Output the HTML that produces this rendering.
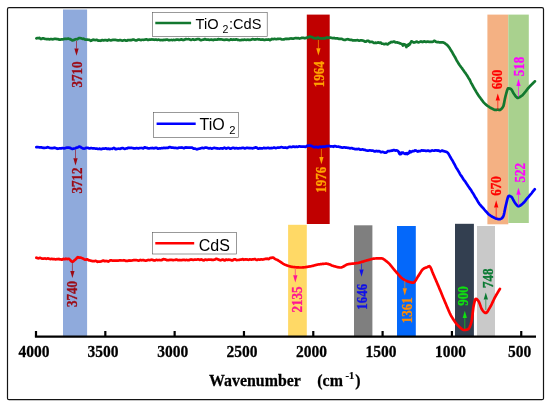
<!DOCTYPE html>
<html><head><meta charset="utf-8"><title>FTIR spectra</title>
<style>html,body{margin:0;padding:0;background:#fff}svg{display:block}.ser{font-family:"Liberation Serif",serif;font-weight:bold}.san{font-family:"Liberation Sans",sans-serif}</style></head><body>
<svg width="550" height="407" viewBox="0 0 550 407">
<rect x="0" y="0" width="550" height="407" fill="#fff"/>
<rect x="7.5" y="7.7" width="536" height="392" rx="1.5" fill="#fff" stroke="#141414" stroke-width="1.2"/>
<rect x="63.0" y="9.5" width="24.1" height="326.6" fill="#8FAADC"/>
<rect x="306.8" y="14.6" width="22.9" height="209.4" fill="#C00000"/>
<rect x="487.4" y="14.6" width="20.9" height="209.7" fill="#F4B183"/>
<rect x="508.3" y="14.6" width="20.5" height="208.4" fill="#A9D18E"/>
<rect x="288.1" y="224.8" width="18.7" height="111.8" fill="#FFD966"/>
<rect x="354.0" y="225.3" width="18.4" height="111.3" fill="#7F7F7F"/>
<rect x="397.0" y="226.0" width="18.8" height="110.6" fill="#0468FA"/>
<rect x="455.0" y="223.8" width="18.9" height="112.8" fill="#333F50"/>
<rect x="477.0" y="226.0" width="18.0" height="110.6" fill="#C9C9C9"/>
<path d="M34.9 336.6 H536" stroke="#000" stroke-width="2.2" fill="none"/>
<path d="M36.00 336.6 V331.0" stroke="#000" stroke-width="2.2" fill="none"/>
<path d="M105.32 336.6 V331.0" stroke="#000" stroke-width="2.2" fill="none"/>
<path d="M174.64 336.6 V331.0" stroke="#000" stroke-width="2.2" fill="none"/>
<path d="M243.96 336.6 V331.0" stroke="#000" stroke-width="2.2" fill="none"/>
<path d="M313.28 336.6 V331.0" stroke="#000" stroke-width="2.2" fill="none"/>
<path d="M382.60 336.6 V331.0" stroke="#000" stroke-width="2.2" fill="none"/>
<path d="M451.92 336.6 V331.0" stroke="#000" stroke-width="2.2" fill="none"/>
<path d="M521.24 336.6 V331.0" stroke="#000" stroke-width="2.2" fill="none"/>
<text class="ser" transform="translate(34.0 356.6) scale(1 1.08)" font-size="15.5" text-anchor="middle" fill="#000" stroke="#000" stroke-width="0.25">4000</text>
<text class="ser" transform="translate(103.1 356.6) scale(1 1.08)" font-size="15.5" text-anchor="middle" fill="#000" stroke="#000" stroke-width="0.25">3500</text>
<text class="ser" transform="translate(172.7 356.6) scale(1 1.08)" font-size="15.5" text-anchor="middle" fill="#000" stroke="#000" stroke-width="0.25">3000</text>
<text class="ser" transform="translate(242.0 356.6) scale(1 1.08)" font-size="15.5" text-anchor="middle" fill="#000" stroke="#000" stroke-width="0.25">2500</text>
<text class="ser" transform="translate(311.6 356.6) scale(1 1.08)" font-size="15.5" text-anchor="middle" fill="#000" stroke="#000" stroke-width="0.25">2000</text>
<text class="ser" transform="translate(380.9 356.6) scale(1 1.08)" font-size="15.5" text-anchor="middle" fill="#000" stroke="#000" stroke-width="0.25">1500</text>
<text class="ser" transform="translate(450.5 356.6) scale(1 1.08)" font-size="15.5" text-anchor="middle" fill="#000" stroke="#000" stroke-width="0.25">1000</text>
<text class="ser" transform="translate(519.7 356.6) scale(1 1.08)" font-size="15.5" text-anchor="middle" fill="#000" stroke="#000" stroke-width="0.25">500</text>
<text class="ser" transform="translate(209.1 385.7) scale(1 1.08)" font-size="15.9" fill="#000" stroke="#000" stroke-width="0.25">Wavenumber</text>
<text class="ser" transform="translate(317.3 385.7) scale(1 1.08)" font-size="15.9" fill="#000" stroke="#000" stroke-width="0.25">(cm</text>
<text class="ser" transform="translate(345.6 379.3) scale(1 1.08)" font-size="10.5" fill="#000" stroke="#000" stroke-width="0.2">-1</text>
<text class="ser" transform="translate(355.3 385.7) scale(1 1.08)" font-size="15.9" fill="#000" stroke="#000" stroke-width="0.25">)</text>
<path d="M36.4 38.39 L36.9 38.11 L37.4 38.13 L37.9 38.09 L38.4 38.12 L38.9 38.02 L39.4 37.93 L39.9 38.28 L40.4 38.64 L40.9 39.07 L41.4 38.93 L41.9 38.70 L42.4 38.40 L42.9 38.32 L43.4 38.37 L43.9 38.51 L44.4 38.75 L44.9 38.87 L45.4 38.96 L45.9 39.00 L46.4 39.12 L46.9 39.20 L47.4 39.13 L47.9 39.00 L48.4 39.07 L48.9 39.24 L49.4 39.36 L49.9 39.26 L50.4 39.13 L50.9 39.04 L51.4 39.01 L51.9 39.11 L52.4 39.24 L52.9 39.36 L53.4 39.17 L53.9 39.01 L54.4 38.77 L54.9 38.81 L55.4 38.75 L55.9 38.90 L56.4 39.05 L56.9 39.16 L57.4 39.12 L57.9 39.03 L58.4 39.18 L58.9 39.42 L59.4 39.65 L59.9 39.70 L60.4 39.64 L60.9 39.50 L61.4 39.33 L61.9 39.28 L62.4 39.34 L62.9 39.34 L63.4 39.25 L63.9 38.97 L64.4 38.87 L64.9 38.81 L65.4 38.94 L65.9 38.94 L66.4 38.83 L66.9 38.82 L67.4 38.72 L67.9 38.73 L68.4 38.58 L68.9 38.78 L69.4 38.95 L69.9 39.16 L70.4 39.19 L70.9 39.44 L71.4 39.88 L71.9 40.22 L72.4 40.42 L72.9 40.18 L73.4 40.14 L73.9 39.95 L74.4 39.95 L74.9 39.57 L75.4 39.34 L75.9 39.14 L76.4 39.27 L76.9 39.24 L77.4 39.11 L77.9 38.77 L78.4 38.39 L78.9 38.04 L79.4 37.99 L79.9 38.06 L80.4 38.26 L80.9 38.24 L81.4 38.39 L81.9 38.59 L82.4 38.84 L82.9 38.83 L83.4 38.69 L83.9 38.77 L84.4 39.13 L84.9 39.54 L85.4 39.69 L85.9 39.65 L86.4 39.57 L86.9 39.65 L87.4 39.69 L87.9 39.78 L88.4 39.72 L88.9 39.82 L89.4 39.89 L89.9 40.19 L90.4 40.45 L90.9 40.79 L91.4 40.66 L91.9 40.35 L92.4 39.83 L92.9 39.76 L93.4 39.69 L93.9 39.86 L94.4 39.90 L94.9 40.13 L95.4 40.11 L95.9 39.92 L96.4 39.77 L96.9 39.85 L97.4 40.23 L97.9 40.51 L98.4 40.69 L98.9 40.57 L99.4 40.59 L99.9 40.59 L100.4 40.79 L100.9 40.69 L101.4 40.52 L101.9 40.14 L102.4 40.10 L102.9 40.18 L103.4 40.43 L103.9 40.39 L104.4 40.29 L104.9 40.12 L105.4 40.05 L105.9 40.00 L106.4 40.17 L106.9 40.41 L107.4 40.59 L107.9 40.33 L108.4 39.96 L108.9 39.72 L109.4 39.85 L109.9 40.13 L110.4 40.33 L110.9 40.35 L111.4 40.30 L111.9 40.14 L112.4 39.98 L112.9 39.82 L113.4 39.83 L113.9 39.87 L114.4 39.85 L114.9 39.82 L115.4 39.87 L115.9 40.00 L116.4 40.12 L116.9 40.15 L117.4 40.22 L117.9 40.40 L118.4 40.40 L118.9 40.34 L119.4 40.02 L119.9 40.03 L120.4 40.03 L120.9 40.27 L121.4 40.42 L121.9 40.53 L122.4 40.57 L122.9 40.47 L123.4 40.40 L123.9 40.24 L124.4 40.14 L124.9 40.22 L125.4 40.36 L125.9 40.69 L126.4 40.73 L126.9 40.67 L127.4 40.31 L127.9 40.13 L128.4 40.03 L128.9 40.08 L129.4 40.03 L129.9 40.13 L130.4 40.15 L130.9 40.29 L131.4 40.14 L131.9 40.04 L132.4 39.76 L132.9 39.59 L133.4 39.50 L133.9 39.65 L134.4 39.91 L134.9 40.14 L135.4 40.29 L135.9 40.36 L136.4 40.38 L136.9 40.23 L137.4 39.96 L137.9 39.75 L138.4 39.56 L138.9 39.65 L139.4 39.64 L139.9 39.92 L140.4 40.01 L140.9 40.09 L141.4 39.94 L141.9 39.80 L142.4 39.76 L142.9 39.75 L143.4 39.79 L143.9 39.80 L144.4 39.76 L144.9 39.70 L145.4 39.51 L145.9 39.42 L146.4 39.27 L146.9 39.46 L147.4 39.69 L147.9 39.94 L148.4 39.92 L148.9 39.71 L149.4 39.61 L149.9 39.60 L150.4 39.66 L150.9 39.62 L151.4 39.49 L151.9 39.41 L152.4 39.50 L152.9 39.57 L153.4 39.68 L153.9 39.70 L154.4 39.79 L154.9 39.75 L155.4 39.62 L155.9 39.52 L156.4 39.66 L156.9 39.86 L157.4 40.01 L157.9 39.83 L158.4 39.62 L158.9 39.65 L159.4 39.88 L159.9 40.14 L160.4 40.07 L160.9 39.97 L161.4 40.00 L161.9 40.08 L162.4 40.20 L162.9 40.04 L163.4 40.03 L163.9 39.84 L164.4 39.89 L164.9 39.82 L165.4 39.95 L165.9 39.80 L166.4 39.66 L166.9 39.48 L167.4 39.60 L167.9 39.85 L168.4 40.10 L168.9 40.22 L169.4 40.19 L169.9 40.10 L170.4 40.02 L170.9 39.98 L171.4 39.95 L171.9 39.98 L172.4 40.04 L172.9 40.03 L173.4 39.94 L173.9 39.94 L174.4 40.02 L174.9 40.08 L175.4 39.90 L175.9 39.81 L176.4 39.66 L176.9 39.67 L177.4 39.58 L177.9 39.67 L178.4 39.81 L178.9 39.90 L179.4 39.95 L179.9 39.84 L180.4 39.64 L180.9 39.42 L181.4 39.38 L181.9 39.53 L182.4 39.82 L182.9 39.90 L183.4 40.05 L183.9 39.93 L184.4 39.79 L184.9 39.44 L185.4 39.20 L185.9 39.18 L186.4 39.21 L186.9 39.24 L187.4 39.23 L187.9 39.25 L188.4 39.19 L188.9 39.20 L189.4 39.30 L189.9 39.58 L190.4 39.81 L190.9 39.98 L191.4 39.93 L191.9 39.64 L192.4 39.32 L192.9 39.27 L193.4 39.49 L193.9 39.76 L194.4 39.81 L194.9 39.76 L195.4 39.61 L195.9 39.56 L196.4 39.40 L196.9 39.23 L197.4 39.05 L197.9 38.98 L198.4 39.02 L198.9 39.14 L199.4 39.32 L199.9 39.71 L200.4 40.04 L200.9 40.27 L201.4 40.11 L201.9 39.91 L202.4 39.73 L202.9 39.71 L203.4 39.66 L203.9 39.45 L204.4 39.21 L204.9 39.04 L205.4 39.33 L205.9 39.54 L206.4 39.70 L206.9 39.57 L207.4 39.51 L207.9 39.58 L208.4 39.64 L208.9 39.79 L209.4 39.85 L209.9 39.82 L210.4 39.76 L210.9 39.67 L211.4 39.71 L211.9 39.67 L212.4 39.89 L212.9 40.02 L213.4 40.06 L213.9 39.80 L214.4 39.60 L214.9 39.57 L215.4 39.60 L215.9 39.74 L216.4 39.75 L216.9 39.77 L217.4 39.46 L217.9 39.19 L218.4 39.04 L218.9 39.25 L219.4 39.49 L219.9 39.44 L220.4 39.36 L220.9 39.32 L221.4 39.46 L221.9 39.52 L222.4 39.53 L222.9 39.67 L223.4 39.72 L223.9 39.85 L224.4 39.84 L224.9 39.95 L225.4 39.81 L225.9 39.66 L226.4 39.54 L226.9 39.57 L227.4 39.74 L227.9 39.82 L228.4 39.99 L228.9 40.06 L229.4 40.10 L229.9 39.84 L230.4 39.55 L230.9 39.37 L231.4 39.52 L231.9 39.72 L232.4 39.79 L232.9 39.69 L233.4 39.48 L233.9 39.47 L234.4 39.52 L234.9 39.71 L235.4 39.60 L235.9 39.43 L236.4 39.36 L236.9 39.58 L237.4 39.79 L237.9 39.86 L238.4 39.89 L238.9 40.06 L239.4 40.19 L239.9 40.24 L240.4 40.15 L240.9 40.11 L241.4 39.95 L241.9 39.89 L242.4 39.79 L242.9 40.00 L243.4 39.92 L243.9 39.90 L244.4 39.64 L244.9 39.71 L245.4 39.73 L245.9 39.81 L246.4 39.84 L246.9 39.82 L247.4 39.76 L247.9 39.67 L248.4 39.75 L248.9 39.91 L249.4 39.99 L249.9 39.87 L250.4 39.80 L250.9 39.72 L251.4 39.61 L251.9 39.38 L252.4 39.22 L252.9 39.21 L253.4 39.25 L253.9 39.39 L254.4 39.46 L254.9 39.58 L255.4 39.45 L255.9 39.45 L256.4 39.26 L256.9 39.24 L257.4 39.13 L257.9 39.24 L258.4 39.36 L258.9 39.39 L259.4 39.41 L259.9 39.44 L260.4 39.57 L260.9 39.68 L261.4 39.70 L261.9 39.67 L262.4 39.49 L262.9 39.47 L263.4 39.58 L263.9 39.90 L264.4 40.03 L264.9 39.98 L265.4 39.80 L265.9 39.66 L266.4 39.66 L266.9 39.68 L267.4 39.70 L267.9 39.60 L268.4 39.45 L268.9 39.48 L269.4 39.74 L269.9 40.05 L270.4 40.09 L270.9 39.65 L271.4 39.23 L271.9 38.92 L272.4 38.99 L272.9 39.08 L273.4 39.08 L273.9 39.05 L274.4 38.94 L274.9 38.95 L275.4 38.98 L275.9 39.10 L276.4 39.20 L276.9 39.08 L277.4 38.87 L277.9 38.76 L278.4 38.81 L278.9 38.82 L279.4 38.75 L279.9 38.73 L280.4 38.84 L280.9 38.99 L281.4 39.19 L281.9 39.36 L282.4 39.51 L282.9 39.50 L283.4 39.44 L283.9 39.37 L284.4 39.20 L284.9 39.00 L285.4 38.76 L285.9 38.85 L286.4 38.92 L286.9 39.06 L287.4 38.93 L287.9 38.96 L288.4 38.93 L288.9 38.95 L289.4 38.78 L289.9 38.59 L290.4 38.47 L290.9 38.42 L291.4 38.46 L291.9 38.58 L292.4 38.70 L292.9 38.76 L293.4 38.56 L293.9 38.47 L294.4 38.31 L294.9 38.25 L295.4 38.08 L295.9 38.10 L296.4 38.19 L296.9 38.30 L297.4 38.21 L297.9 38.11 L298.4 38.16 L298.9 38.38 L299.4 38.54 L299.9 38.51 L300.4 38.33 L300.9 38.13 L301.4 37.94 L301.9 37.92 L302.4 37.94 L302.9 37.95 L303.4 37.93 L303.9 38.00 L304.4 38.19 L304.9 38.28 L305.4 38.16 L305.9 38.05 L306.4 37.83 L306.9 37.72 L307.4 37.42 L307.9 37.39 L308.4 37.18 L308.9 37.08 L309.4 36.75 L309.9 36.66 L310.4 36.64 L310.9 36.82 L311.4 36.95 L311.9 37.07 L312.4 37.28 L312.9 37.57 L313.4 37.93 L313.9 38.17 L314.4 38.24 L314.9 38.20 L315.4 38.19 L315.9 38.40 L316.4 38.47 L316.9 38.18 L317.4 37.62 L317.9 37.41 L318.4 37.70 L318.9 38.17 L319.4 38.38 L319.9 38.39 L320.4 38.36 L320.9 38.35 L321.4 38.46 L321.9 38.53 L322.4 38.50 L322.9 38.38 L323.4 38.19 L323.9 38.21 L324.4 38.35 L324.9 38.52 L325.4 38.35 L325.9 37.86 L326.4 37.46 L326.9 37.49 L327.4 37.82 L327.9 38.00 L328.4 37.87 L328.9 37.66 L329.4 37.52 L329.9 37.62 L330.4 37.63 L330.9 37.79 L331.4 37.82 L331.9 38.02 L332.4 38.12 L332.9 38.13 L333.4 38.06 L333.9 37.95 L334.4 38.02 L334.9 38.20 L335.4 38.41 L335.9 38.47 L336.4 38.35 L336.9 38.24 L337.4 38.29 L337.9 38.46 L338.4 38.72 L338.9 38.85 L339.4 39.02 L339.9 38.93 L340.4 38.85 L340.9 38.80 L341.4 38.88 L341.9 39.02 L342.4 39.16 L342.9 39.47 L343.4 39.66 L343.9 39.85 L344.4 39.95 L344.9 40.01 L345.4 39.87 L345.9 39.57 L346.4 39.42 L346.9 39.27 L347.4 39.26 L347.9 39.18 L348.4 39.41 L348.9 39.52 L349.4 39.76 L349.9 39.81 L350.4 39.87 L350.9 39.82 L351.4 39.90 L351.9 40.06 L352.4 40.29 L352.9 40.34 L353.4 40.34 L353.9 40.31 L354.4 40.27 L354.9 40.35 L355.4 40.29 L355.9 40.39 L356.4 40.23 L356.9 40.19 L357.4 40.11 L357.9 40.26 L358.4 40.49 L358.9 40.59 L359.4 40.61 L359.9 40.49 L360.4 40.42 L360.9 40.29 L361.4 40.30 L361.9 40.37 L362.4 40.49 L362.9 40.61 L363.4 40.74 L363.9 40.98 L364.4 41.24 L364.9 41.57 L365.4 41.68 L365.9 41.62 L366.4 41.29 L366.9 41.05 L367.4 40.81 L367.9 40.80 L368.4 40.87 L368.9 41.29 L369.4 41.76 L369.9 42.04 L370.4 42.02 L370.9 41.79 L371.4 41.77 L371.9 41.78 L372.4 42.01 L372.9 42.25 L373.4 42.60 L373.9 42.93 L374.4 43.00 L374.9 42.92 L375.4 42.69 L375.9 42.71 L376.4 42.80 L376.9 42.87 L377.4 42.64 L377.9 42.45 L378.4 42.39 L378.9 42.63 L379.4 42.81 L379.9 42.81 L380.4 42.65 L380.9 42.71 L381.4 43.18 L381.9 43.60 L382.4 43.72 L382.9 43.76 L383.4 43.78 L383.9 44.09 L384.4 44.18 L384.9 44.10 L385.4 43.89 L385.9 43.68 L386.4 43.86 L386.9 44.12 L387.4 44.46 L387.9 44.32 L388.4 43.85 L388.9 43.26 L389.4 43.05 L389.9 42.88 L390.4 42.57 L390.9 42.12 L391.4 41.93 L391.9 42.08 L392.4 42.03 L392.9 42.00 L393.4 41.61 L393.9 41.61 L394.4 41.53 L394.9 41.99 L395.4 42.40 L395.9 42.49 L396.4 42.49 L396.9 42.31 L397.4 42.57 L397.9 42.58 L398.4 42.72 L398.9 42.82 L399.4 43.26 L399.9 43.39 L400.4 43.33 L400.9 43.72 L401.4 43.74 L401.9 44.16 L402.4 44.38 L402.9 45.48 L403.4 44.21 L403.9 45.07 L404.4 44.39 L404.9 44.55 L405.4 44.90 L405.9 45.18 L406.4 47.06 L406.9 45.05 L407.4 45.06 L407.9 44.75 L408.4 45.51 L408.9 44.23 L409.4 44.59 L409.9 44.18 L410.4 42.88 L410.9 42.27 L411.4 41.41 L411.9 41.26 L412.4 41.92 L412.9 42.12 L413.4 42.37 L413.9 42.55 L414.4 42.51 L414.9 42.38 L415.4 42.12 L415.9 41.85 L416.4 41.64 L416.9 41.69 L417.4 41.99 L417.9 42.24 L418.4 42.33 L418.9 42.22 L419.4 42.14 L419.9 41.87 L420.4 41.64 L420.9 41.43 L421.4 41.61 L421.9 41.88 L422.4 42.07 L422.9 41.89 L423.4 41.67 L423.9 41.45 L424.4 41.44 L424.9 41.50 L425.4 41.73 L425.9 41.94 L426.4 41.97 L426.9 41.74 L427.4 41.52 L427.9 41.59 L428.4 41.79 L428.9 41.88 L429.4 41.75 L429.9 41.75 L430.4 41.82 L430.9 41.92 L431.4 41.87 L431.9 41.81 L432.4 41.82 L432.9 41.72 L433.4 41.43 L433.9 41.06 L434.4 40.83 L434.9 41.02 L435.4 41.36 L435.9 41.80 L436.4 42.00 L436.9 42.06 L437.4 42.06 L437.9 42.08 L438.4 42.19 L438.9 42.22 L439.4 42.33 L439.9 42.43 L440.4 42.47 L440.9 42.52 L441.4 42.40 L441.9 42.40 L442.4 42.24 L442.9 42.35 L443.4 42.47 L443.9 42.81 L444.4 42.97 L444.9 43.29 L445.4 43.68 L445.9 44.05 L446.4 44.40 L446.9 44.75 L447.4 45.24 L447.9 45.79 L448.4 46.41 L448.9 47.04 L449.4 47.75 L449.9 48.57 L450.4 49.37 L450.9 50.15 L451.4 50.92 L451.9 51.70 L452.4 52.59 L452.9 53.53 L453.4 54.50 L453.9 55.35 L454.4 56.17 L454.9 57.00 L455.4 57.94 L455.9 58.89 L456.4 59.86 L456.9 60.74 L457.4 61.59 L457.9 62.42 L458.4 63.29 L458.9 64.12 L459.4 64.87 L459.9 65.51 L460.4 66.17 L460.9 66.79 L461.4 67.49 L461.9 68.15 L462.4 68.86 L462.9 69.53 L463.4 70.27 L463.9 70.99 L464.4 71.71 L464.9 72.37 L465.4 73.09 L465.9 73.82 L466.4 74.57 L466.9 75.28 L467.4 76.07 L467.9 76.90 L468.4 77.75 L468.9 78.50 L469.4 79.27 L469.9 80.16 L470.4 81.21 L470.9 82.30 L471.4 83.30 L471.9 84.21 L472.4 85.09 L472.9 86.00 L473.4 86.97 L473.9 87.86 L474.4 88.73 L474.9 89.52 L475.4 90.40 L475.9 91.26 L476.4 92.13 L476.9 92.91 L477.4 93.73 L477.9 94.54 L478.4 95.36 L478.9 96.06 L479.4 96.69 L479.9 97.36 L480.4 98.06 L480.9 98.77 L481.4 99.40 L481.9 100.09 L482.4 100.78 L482.9 101.47 L483.4 102.05 L483.9 102.62 L484.4 103.13 L484.9 103.65 L485.4 104.11 L485.9 104.62 L486.4 105.03 L486.9 105.45 L487.4 105.76 L487.9 106.10 L488.4 106.40 L488.9 106.74 L489.4 107.11 L489.9 107.42 L490.4 107.76 L490.9 108.04 L491.4 108.35 L491.9 108.56 L492.4 108.79 L492.9 109.02 L493.4 109.27 L493.9 109.49 L494.4 109.72 L494.9 109.89 L495.4 109.94 L495.9 109.91 L496.4 109.85 L496.9 109.79 L497.4 109.70 L497.9 109.65 L498.4 109.76 L498.9 109.91 L499.4 110.05 L499.9 109.95 L500.4 109.70 L500.9 109.32 L501.4 108.89 L501.9 108.32 L502.4 107.68 L502.9 106.95 L503.4 106.06 L503.9 104.16 L504.4 101.59 L504.9 98.88 L505.4 96.68 L505.9 94.76 L506.4 92.89 L506.9 91.04 L507.4 89.56 L507.9 88.51 L508.4 88.25 L508.9 88.31 L509.4 88.47 L509.9 88.64 L510.4 88.81 L510.9 89.01 L511.4 89.45 L511.9 90.21 L512.4 91.13 L512.9 92.07 L513.4 92.99 L513.9 93.79 L514.4 94.46 L514.9 95.15 L515.4 95.91 L515.9 96.54 L516.4 97.10 L516.9 97.53 L517.4 97.83 L517.9 97.86 L518.4 97.70 L518.9 97.50 L519.4 97.26 L519.9 97.03 L520.4 96.70 L520.9 96.33 L521.4 95.99 L521.9 95.64 L522.4 95.23 L522.9 94.70 L523.4 94.14 L523.9 93.58 L524.4 92.98 L524.9 92.38 L525.4 91.75 L525.9 91.12 L526.4 90.40 L526.9 89.71 L527.4 89.07 L527.9 88.54 L528.4 88.03 L528.9 87.45 L529.4 86.85 L529.9 86.23 L530.4 85.70 L530.9 85.20 L531.4 84.71 L531.9 84.26 L532.4 83.76 L532.9 83.35 L533.4 82.81 L533.9 82.35 L534.4 81.82 L534.9 81.31" stroke="#12782F" stroke-width="2.7" fill="none" stroke-linejoin="round" stroke-linecap="round"/>
<path d="M36.3 147.14 L36.8 147.08 L37.3 147.12 L37.8 147.09 L38.3 147.19 L38.8 147.23 L39.3 147.32 L39.8 147.35 L40.3 147.38 L40.8 147.46 L41.3 147.46 L41.8 147.47 L42.3 147.66 L42.8 147.80 L43.3 147.96 L43.8 147.81 L44.3 147.82 L44.8 147.74 L45.3 147.78 L45.8 147.73 L46.3 147.68 L46.8 147.50 L47.3 147.29 L47.8 147.19 L48.3 147.36 L48.8 147.61 L49.3 147.82 L49.8 147.96 L50.3 148.01 L50.8 148.07 L51.3 148.04 L51.8 148.09 L52.3 148.11 L52.8 148.10 L53.3 147.97 L53.8 147.82 L54.3 147.71 L54.8 147.78 L55.3 147.91 L55.8 148.08 L56.3 148.22 L56.8 148.51 L57.3 148.71 L57.8 148.78 L58.3 148.58 L58.8 148.48 L59.3 148.42 L59.8 148.45 L60.3 148.44 L60.8 148.40 L61.3 148.32 L61.8 148.19 L62.3 148.12 L62.8 148.19 L63.3 148.29 L63.8 148.38 L64.3 148.38 L64.8 148.28 L65.3 148.11 L65.8 147.86 L66.3 147.76 L66.8 147.67 L67.3 147.68 L67.8 147.63 L68.3 147.63 L68.8 147.67 L69.3 147.68 L69.8 147.87 L70.3 147.92 L70.8 148.18 L71.3 148.41 L71.8 148.75 L72.3 148.89 L72.8 148.82 L73.3 148.67 L73.8 148.58 L74.3 148.52 L74.8 148.52 L75.3 148.32 L75.8 148.08 L76.3 147.80 L76.8 147.64 L77.3 147.62 L77.8 147.41 L78.3 147.12 L78.8 146.68 L79.3 146.52 L79.8 146.64 L80.3 146.87 L80.8 147.22 L81.3 147.48 L81.8 147.90 L82.3 148.17 L82.8 148.45 L83.3 148.52 L83.8 148.59 L84.3 148.54 L84.8 148.48 L85.3 148.25 L85.8 147.96 L86.3 147.81 L86.8 147.73 L87.3 147.85 L87.8 147.82 L88.3 148.06 L88.8 148.21 L89.3 148.43 L89.8 148.41 L90.3 148.22 L90.8 148.10 L91.3 148.05 L91.8 148.18 L92.3 148.29 L92.8 148.34 L93.3 148.48 L93.8 148.44 L94.3 148.48 L94.8 148.42 L95.3 148.59 L95.8 148.62 L96.3 148.63 L96.8 148.63 L97.3 148.82 L97.8 149.01 L98.3 149.00 L98.8 148.89 L99.3 148.72 L99.8 148.71 L100.3 148.89 L100.8 149.11 L101.3 149.24 L101.8 149.07 L102.3 148.80 L102.8 148.63 L103.3 148.59 L103.8 148.69 L104.3 148.67 L104.8 148.56 L105.3 148.44 L105.8 148.35 L106.3 148.53 L106.8 148.71 L107.3 148.94 L107.8 148.80 L108.3 148.71 L108.8 148.69 L109.3 149.00 L109.8 149.09 L110.3 149.02 L110.8 148.76 L111.3 148.73 L111.8 148.77 L112.3 148.82 L112.8 148.59 L113.3 148.17 L113.8 147.96 L114.3 148.00 L114.8 148.50 L115.3 148.96 L115.8 149.22 L116.3 149.12 L116.8 148.86 L117.3 148.80 L117.8 148.76 L118.3 148.77 L118.8 148.67 L119.3 148.75 L119.8 148.79 L120.3 148.80 L120.8 148.57 L121.3 148.37 L121.8 148.19 L122.3 148.13 L122.8 148.16 L123.3 148.29 L123.8 148.53 L124.3 148.74 L124.8 148.89 L125.3 148.77 L125.8 148.58 L126.3 148.41 L126.8 148.39 L127.3 148.30 L127.8 148.04 L128.3 147.80 L128.8 147.72 L129.3 147.79 L129.8 147.92 L130.3 147.95 L130.8 148.02 L131.3 147.95 L131.8 147.95 L132.3 147.98 L132.8 148.09 L133.3 148.29 L133.8 148.33 L134.3 148.37 L134.8 148.33 L135.3 148.38 L135.8 148.23 L136.3 148.09 L136.8 147.99 L137.3 148.18 L137.8 148.32 L138.3 148.36 L138.8 148.29 L139.3 148.17 L139.8 148.07 L140.3 147.98 L140.8 148.00 L141.3 147.97 L141.8 148.03 L142.3 148.15 L142.8 148.36 L143.3 148.33 L143.8 148.01 L144.3 147.57 L144.8 147.30 L145.3 147.49 L145.8 147.72 L146.3 147.90 L146.8 147.86 L147.3 148.05 L147.8 148.33 L148.3 148.52 L148.8 148.50 L149.3 148.36 L149.8 148.23 L150.3 148.22 L150.8 148.19 L151.3 148.25 L151.8 148.07 L152.3 147.98 L152.8 147.93 L153.3 148.13 L153.8 148.39 L154.3 148.29 L154.8 148.12 L155.3 147.78 L155.8 147.74 L156.3 147.75 L156.8 148.00 L157.3 148.30 L157.8 148.60 L158.3 148.59 L158.8 148.53 L159.3 148.36 L159.8 148.45 L160.3 148.38 L160.8 148.33 L161.3 148.15 L161.8 148.16 L162.3 148.25 L162.8 148.20 L163.3 148.04 L163.8 147.88 L164.3 147.94 L164.8 148.03 L165.3 148.03 L165.8 147.92 L166.3 147.81 L166.8 147.83 L167.3 147.85 L167.8 147.96 L168.3 147.77 L168.8 147.51 L169.3 147.13 L169.8 147.08 L170.3 147.17 L170.8 147.40 L171.3 147.57 L171.8 147.75 L172.3 147.69 L172.8 147.67 L173.3 147.59 L173.8 147.84 L174.3 147.87 L174.8 147.92 L175.3 147.81 L175.8 147.89 L176.3 148.01 L176.8 148.08 L177.3 148.19 L177.8 148.06 L178.3 147.97 L178.8 147.69 L179.3 147.71 L179.8 147.75 L180.3 147.68 L180.8 147.61 L181.3 147.43 L181.8 147.57 L182.3 147.56 L182.8 147.82 L183.3 147.99 L183.8 148.17 L184.3 148.06 L184.8 147.78 L185.3 147.49 L185.8 147.42 L186.3 147.45 L186.8 147.67 L187.3 147.66 L187.8 147.68 L188.3 147.53 L188.8 147.57 L189.3 147.51 L189.8 147.62 L190.3 147.62 L190.8 147.63 L191.3 147.55 L191.8 147.55 L192.3 147.77 L192.8 148.14 L193.3 148.52 L193.8 148.76 L194.3 148.67 L194.8 148.58 L195.3 148.58 L195.8 148.88 L196.3 149.16 L196.8 149.30 L197.3 149.21 L197.8 149.02 L198.3 148.88 L198.8 148.76 L199.3 148.68 L199.8 148.63 L200.3 148.54 L200.8 148.35 L201.3 148.07 L201.8 147.93 L202.3 147.90 L202.8 148.06 L203.3 148.11 L203.8 148.14 L204.3 147.99 L204.8 147.81 L205.3 147.66 L205.8 147.61 L206.3 147.70 L206.8 147.80 L207.3 147.90 L207.8 148.05 L208.3 148.26 L208.8 148.37 L209.3 148.31 L209.8 148.20 L210.3 148.11 L210.8 148.30 L211.3 148.49 L211.8 148.70 L212.3 148.55 L212.8 148.34 L213.3 148.08 L213.8 147.93 L214.3 147.91 L214.8 147.96 L215.3 148.07 L215.8 148.05 L216.3 148.22 L216.8 148.35 L217.3 148.53 L217.8 148.41 L218.3 148.49 L218.8 148.48 L219.3 148.60 L219.8 148.49 L220.3 148.44 L220.8 148.35 L221.3 148.41 L221.8 148.41 L222.3 148.57 L222.8 148.47 L223.3 148.33 L223.8 147.92 L224.3 147.70 L224.8 147.74 L225.3 148.11 L225.8 148.47 L226.3 148.61 L226.8 148.36 L227.3 148.10 L227.8 147.94 L228.3 147.90 L228.8 147.96 L229.3 148.04 L229.8 148.47 L230.3 148.67 L230.8 148.75 L231.3 148.39 L231.8 148.14 L232.3 147.92 L232.8 147.77 L233.3 147.76 L233.8 147.90 L234.3 148.25 L234.8 148.42 L235.3 148.40 L235.8 148.16 L236.3 148.03 L236.8 148.16 L237.3 148.39 L237.8 148.52 L238.3 148.51 L238.8 148.32 L239.3 148.23 L239.8 148.12 L240.3 148.22 L240.8 148.28 L241.3 148.20 L241.8 148.04 L242.3 147.87 L242.8 147.84 L243.3 147.83 L243.8 147.98 L244.3 148.21 L244.8 148.45 L245.3 148.32 L245.8 148.17 L246.3 147.89 L246.8 147.88 L247.3 147.74 L247.8 147.87 L248.3 148.01 L248.8 148.10 L249.3 148.08 L249.8 147.97 L250.3 148.04 L250.8 148.09 L251.3 148.16 L251.8 148.24 L252.3 148.29 L252.8 148.29 L253.3 148.13 L253.8 148.00 L254.3 147.84 L254.8 147.68 L255.3 147.44 L255.8 147.39 L256.3 147.51 L256.8 147.77 L257.3 148.08 L257.8 148.42 L258.3 148.71 L258.8 148.61 L259.3 148.42 L259.8 148.17 L260.3 148.27 L260.8 148.30 L261.3 148.51 L261.8 148.47 L262.3 148.50 L262.8 148.18 L263.3 148.03 L263.8 147.86 L264.3 148.06 L264.8 148.12 L265.3 148.14 L265.8 147.98 L266.3 148.05 L266.8 148.04 L267.3 148.01 L267.8 147.82 L268.3 147.84 L268.8 147.94 L269.3 148.19 L269.8 148.31 L270.3 148.27 L270.8 148.07 L271.3 147.97 L271.8 148.00 L272.3 148.10 L272.8 147.91 L273.3 147.73 L273.8 147.53 L274.3 147.63 L274.8 147.82 L275.3 148.04 L275.8 148.14 L276.3 147.98 L276.8 147.83 L277.3 147.65 L277.8 147.70 L278.3 147.69 L278.8 147.62 L279.3 147.55 L279.8 147.49 L280.3 147.47 L280.8 147.28 L281.3 147.16 L281.8 147.16 L282.3 147.34 L282.8 147.53 L283.3 147.65 L283.8 147.71 L284.3 147.67 L284.8 147.63 L285.3 147.47 L285.8 147.58 L286.3 147.80 L286.8 147.97 L287.3 147.89 L287.8 147.55 L288.3 147.33 L288.8 147.08 L289.3 146.90 L289.8 146.76 L290.3 146.80 L290.8 146.95 L291.3 147.08 L291.8 147.03 L292.3 146.96 L292.8 146.64 L293.3 146.52 L293.8 146.50 L294.3 146.85 L294.8 147.00 L295.3 146.91 L295.8 146.72 L296.3 146.64 L296.8 146.82 L297.3 146.92 L297.8 146.91 L298.3 146.65 L298.8 146.42 L299.3 146.26 L299.8 146.35 L300.3 146.46 L300.8 146.61 L301.3 146.67 L301.8 146.64 L302.3 146.70 L302.8 146.64 L303.3 146.64 L303.8 146.51 L304.3 146.62 L304.8 146.78 L305.3 146.95 L305.8 146.76 L306.3 146.48 L306.8 146.05 L307.3 145.86 L307.8 145.67 L308.3 145.67 L308.8 145.64 L309.3 145.65 L309.8 145.55 L310.3 145.55 L310.8 145.63 L311.3 145.86 L311.8 146.08 L312.3 146.40 L312.8 146.68 L313.3 146.82 L313.8 147.04 L314.3 147.23 L314.8 147.28 L315.3 147.06 L315.8 146.76 L316.3 146.78 L316.8 146.94 L317.3 147.26 L317.8 147.43 L318.3 147.47 L318.8 147.24 L319.3 146.78 L319.8 146.60 L320.3 146.62 L320.8 146.95 L321.3 146.87 L321.8 146.73 L322.3 146.49 L322.8 146.54 L323.3 146.61 L323.8 146.56 L324.3 146.60 L324.8 146.62 L325.3 146.66 L325.8 146.37 L326.3 146.12 L326.8 146.00 L327.3 146.08 L327.8 146.09 L328.3 146.01 L328.8 145.97 L329.3 145.96 L329.8 146.12 L330.3 146.33 L330.8 146.53 L331.3 146.45 L331.8 146.24 L332.3 146.27 L332.8 146.60 L333.3 146.79 L333.8 146.61 L334.3 146.16 L334.8 146.04 L335.3 146.09 L335.8 146.36 L336.3 146.46 L336.8 146.68 L337.3 146.73 L337.8 146.77 L338.3 146.64 L338.8 146.69 L339.3 146.83 L339.8 146.98 L340.3 147.19 L340.8 147.21 L341.3 147.39 L341.8 147.46 L342.3 147.64 L342.8 147.60 L343.3 147.47 L343.8 147.34 L344.3 147.33 L344.8 147.42 L345.3 147.54 L345.8 147.58 L346.3 147.62 L346.8 147.70 L347.3 147.78 L347.8 147.89 L348.3 147.89 L348.8 148.02 L349.3 148.07 L349.8 148.29 L350.3 148.29 L350.8 148.24 L351.3 148.01 L351.8 148.03 L352.3 148.20 L352.8 148.48 L353.3 148.68 L353.8 148.79 L354.3 148.89 L354.8 149.04 L355.3 149.07 L355.8 149.14 L356.3 149.03 L356.8 149.23 L357.3 149.10 L357.8 149.09 L358.3 148.78 L358.8 148.89 L359.3 149.08 L359.8 149.49 L360.3 149.65 L360.8 149.67 L361.3 149.56 L361.8 149.49 L362.3 149.39 L362.8 149.46 L363.3 149.60 L363.8 149.78 L364.3 149.82 L364.8 149.85 L365.3 150.08 L365.8 150.29 L366.3 150.46 L366.8 150.50 L367.3 150.61 L367.8 150.68 L368.3 150.60 L368.8 150.50 L369.3 150.47 L369.8 150.47 L370.3 150.47 L370.8 150.50 L371.3 150.61 L371.8 150.72 L372.3 150.69 L372.8 150.67 L373.3 150.75 L373.8 150.99 L374.3 151.34 L374.8 151.50 L375.3 151.50 L375.8 151.14 L376.3 150.98 L376.8 150.94 L377.3 151.22 L377.8 151.32 L378.3 151.28 L378.8 151.10 L379.3 151.10 L379.8 151.38 L380.3 151.75 L380.8 152.20 L381.3 152.19 L381.8 152.14 L382.3 151.88 L382.8 151.90 L383.3 152.10 L383.8 152.33 L384.3 152.55 L384.8 152.53 L385.3 152.67 L385.8 152.62 L386.3 152.56 L386.8 152.17 L387.3 151.60 L387.8 151.09 L388.3 150.99 L388.8 151.08 L389.3 151.07 L389.8 150.95 L390.3 150.84 L390.8 150.86 L391.3 150.69 L391.8 150.77 L392.3 150.60 L392.8 150.56 L393.3 150.13 L393.8 150.19 L394.3 150.16 L394.8 150.52 L395.3 150.45 L395.8 150.59 L396.3 150.41 L396.8 150.54 L397.3 150.63 L397.8 151.05 L398.3 151.55 L398.8 152.03 L399.3 153.56 L399.8 154.10 L400.3 153.01 L400.8 154.12 L401.3 153.04 L401.8 152.62 L402.3 152.50 L402.8 153.11 L403.3 152.76 L403.8 153.34 L404.3 153.32 L404.8 153.77 L405.3 153.45 L405.8 153.89 L406.3 153.72 L406.8 153.15 L407.3 154.10 L407.8 153.05 L408.3 153.45 L408.8 152.68 L409.3 152.80 L409.8 151.23 L410.3 151.56 L410.8 152.10 L411.3 151.93 L411.8 151.59 L412.3 151.02 L412.8 151.05 L413.3 151.17 L413.8 151.18 L414.3 150.83 L414.8 150.56 L415.3 150.38 L415.8 150.58 L416.3 150.66 L416.8 151.08 L417.3 151.34 L417.8 151.57 L418.3 151.30 L418.8 151.06 L419.3 150.99 L419.8 151.12 L420.3 151.14 L420.8 150.84 L421.3 150.50 L421.8 150.25 L422.3 150.46 L422.8 150.58 L423.3 150.77 L423.8 150.57 L424.3 150.52 L424.8 150.50 L425.3 150.68 L425.8 150.88 L426.3 150.93 L426.8 150.85 L427.3 150.71 L427.8 150.54 L428.3 150.62 L428.8 150.76 L429.3 151.07 L429.8 151.14 L430.3 151.14 L430.8 150.99 L431.3 150.72 L431.8 150.54 L432.3 150.43 L432.8 150.58 L433.3 150.74 L433.8 150.74 L434.3 150.71 L434.8 150.46 L435.3 150.39 L435.8 150.23 L436.3 150.41 L436.8 150.56 L437.3 150.69 L437.8 150.47 L438.3 150.47 L438.8 150.62 L439.3 151.05 L439.8 151.28 L440.3 151.38 L440.8 151.23 L441.3 150.91 L441.8 150.53 L442.3 150.60 L442.8 150.80 L443.3 151.21 L443.8 151.18 L444.3 151.29 L444.8 151.30 L445.3 151.60 L445.8 151.75 L446.3 151.88 L446.8 152.06 L447.3 152.39 L447.8 152.89 L448.3 153.54 L448.8 154.31 L449.3 155.18 L449.8 156.08 L450.3 157.03 L450.8 157.92 L451.3 158.79 L451.8 159.55 L452.3 160.32 L452.8 161.18 L453.3 162.09 L453.8 163.05 L454.3 163.99 L454.8 164.95 L455.3 165.90 L455.8 166.85 L456.3 167.73 L456.8 168.56 L457.3 169.34 L457.8 170.15 L458.3 170.95 L458.8 171.82 L459.3 172.71 L459.8 173.61 L460.3 174.45 L460.8 175.19 L461.3 175.89 L461.8 176.60 L462.3 177.38 L462.8 178.21 L463.3 179.05 L463.8 179.80 L464.3 180.42 L464.8 181.00 L465.3 181.64 L465.8 182.44 L466.3 183.23 L466.8 183.99 L467.3 184.71 L467.8 185.44 L468.3 186.21 L468.8 186.92 L469.3 187.67 L469.8 188.39 L470.3 189.14 L470.8 189.84 L471.3 190.61 L471.8 191.41 L472.3 192.25 L472.8 193.04 L473.3 193.80 L473.8 194.62 L474.3 195.50 L474.8 196.43 L475.3 197.25 L475.8 198.03 L476.3 198.80 L476.8 199.65 L477.3 200.54 L477.8 201.40 L478.3 202.27 L478.8 203.09 L479.3 203.82 L479.8 204.43 L480.3 204.98 L480.8 205.59 L481.3 206.19 L481.8 206.80 L482.3 207.26 L482.8 207.75 L483.3 208.24 L483.8 208.86 L484.3 209.52 L484.8 210.15 L485.3 210.70 L485.8 211.19 L486.3 211.69 L486.8 212.26 L487.3 212.89 L487.8 213.52 L488.3 214.04 L488.8 214.44 L489.3 214.77 L489.8 215.11 L490.3 215.45 L490.8 215.80 L491.3 216.13 L491.8 216.51 L492.3 216.80 L492.8 217.05 L493.3 217.27 L493.8 217.52 L494.3 217.79 L494.8 218.01 L495.3 218.27 L495.8 218.49 L496.3 218.70 L496.8 218.78 L497.3 218.85 L497.8 218.96 L498.3 219.09 L498.8 219.20 L499.3 219.23 L499.8 219.20 L500.3 219.08 L500.8 218.86 L501.3 218.60 L501.8 218.29 L502.3 217.83 L502.8 217.17 L503.3 216.36 L503.8 214.90 L504.3 212.75 L504.8 210.24 L505.3 207.69 L505.8 205.56 L506.3 203.54 L506.8 201.41 L507.3 199.31 L507.8 197.57 L508.3 196.36 L508.8 195.95 L509.3 195.92 L509.8 196.05 L510.3 196.28 L510.8 196.47 L511.3 196.66 L511.8 197.12 L512.3 197.99 L512.8 199.00 L513.3 199.99 L513.8 200.85 L514.3 201.68 L514.8 202.45 L515.3 203.19 L515.8 203.88 L516.3 204.56 L516.8 205.11 L517.3 205.67 L517.8 206.07 L518.3 206.29 L518.8 206.20 L519.3 206.02 L519.8 205.79 L520.3 205.53 L520.8 205.19 L521.3 204.76 L521.8 204.35 L522.3 203.94 L522.8 203.53 L523.3 203.06 L523.8 202.51 L524.3 201.99 L524.8 201.43 L525.3 200.80 L525.8 200.10 L526.3 199.40 L526.8 198.77 L527.3 198.20 L527.8 197.67 L528.3 197.12 L528.8 196.57 L529.3 195.95 L529.8 195.34 L530.3 194.74 L530.8 194.20 L531.3 193.66 L531.8 193.03 L532.3 192.32 L532.8 191.61 L533.3 191.00 L533.8 190.42 L534.3 189.83 L534.8 189.21" stroke="#0000FF" stroke-width="2.7" fill="none" stroke-linejoin="round" stroke-linecap="round"/>
<path d="M36.4 257.74 L36.9 257.90 L37.4 258.14 L37.9 258.27 L38.4 258.32 L38.9 258.27 L39.4 258.04 L39.9 257.91 L40.4 257.88 L40.9 258.11 L41.4 258.40 L41.9 258.60 L42.4 258.68 L42.9 258.64 L43.4 258.61 L43.9 258.58 L44.4 258.48 L44.9 258.45 L45.4 258.52 L45.9 258.71 L46.4 258.82 L46.9 258.67 L47.4 258.49 L47.9 258.37 L48.4 258.48 L48.9 258.69 L49.4 258.83 L49.9 259.02 L50.4 259.05 L50.9 259.04 L51.4 258.90 L51.9 258.90 L52.4 259.02 L52.9 259.19 L53.4 259.19 L53.9 259.15 L54.4 259.13 L54.9 259.25 L55.4 259.32 L55.9 259.29 L56.4 259.22 L56.9 259.21 L57.4 259.25 L57.9 259.10 L58.4 259.00 L58.9 258.96 L59.4 259.31 L59.9 259.43 L60.4 259.44 L60.9 259.38 L61.4 259.63 L61.9 259.75 L62.4 259.54 L62.9 259.12 L63.4 258.93 L63.9 259.05 L64.4 259.26 L64.9 259.24 L65.4 259.01 L65.9 258.70 L66.4 258.80 L66.9 258.98 L67.4 259.13 L67.9 258.90 L68.4 258.79 L68.9 258.87 L69.4 259.27 L69.9 259.65 L70.4 260.25 L70.9 260.73 L71.4 261.21 L71.9 261.48 L72.4 261.69 L72.9 261.65 L73.4 261.34 L73.9 260.83 L74.4 260.35 L74.9 259.91 L75.4 259.46 L75.9 258.97 L76.4 258.56 L76.9 257.95 L77.4 257.45 L77.9 257.13 L78.4 257.34 L78.9 257.61 L79.4 257.76 L79.9 257.65 L80.4 257.57 L80.9 257.63 L81.4 257.86 L81.9 258.11 L82.4 258.34 L82.9 258.53 L83.4 258.75 L83.9 259.08 L84.4 259.35 L84.9 259.62 L85.4 259.74 L85.9 259.71 L86.4 259.51 L86.9 259.32 L87.4 259.36 L87.9 259.72 L88.4 260.03 L88.9 260.31 L89.4 260.35 L89.9 260.48 L90.4 260.54 L90.9 260.70 L91.4 260.85 L91.9 260.99 L92.4 261.10 L92.9 261.16 L93.4 261.22 L93.9 261.22 L94.4 261.11 L94.9 260.96 L95.4 260.87 L95.9 260.90 L96.4 261.15 L96.9 261.50 L97.4 261.79 L97.9 261.75 L98.4 261.58 L98.9 261.49 L99.4 261.57 L99.9 261.60 L100.4 261.60 L100.9 261.41 L101.4 261.39 L101.9 261.11 L102.4 260.92 L102.9 260.55 L103.4 260.54 L103.9 260.79 L104.4 261.20 L104.9 261.24 L105.4 261.09 L105.9 260.88 L106.4 260.97 L106.9 261.09 L107.4 261.32 L107.9 261.51 L108.4 261.55 L108.9 261.34 L109.4 260.91 L109.9 260.47 L110.4 260.31 L110.9 260.26 L111.4 260.46 L111.9 260.48 L112.4 260.58 L112.9 260.57 L113.4 260.62 L113.9 260.62 L114.4 260.63 L114.9 260.67 L115.4 260.67 L115.9 260.65 L116.4 260.53 L116.9 260.55 L117.4 260.51 L117.9 260.64 L118.4 260.59 L118.9 260.53 L119.4 260.40 L119.9 260.31 L120.4 260.35 L120.9 260.38 L121.4 260.45 L121.9 260.49 L122.4 260.52 L122.9 260.49 L123.4 260.33 L123.9 260.22 L124.4 260.27 L124.9 260.54 L125.4 260.73 L125.9 260.90 L126.4 260.86 L126.9 260.99 L127.4 260.94 L127.9 260.89 L128.4 260.61 L128.9 260.45 L129.4 260.45 L129.9 260.66 L130.4 260.72 L130.9 260.70 L131.4 260.49 L131.9 260.52 L132.4 260.42 L132.9 260.39 L133.4 260.13 L133.9 260.14 L134.4 260.08 L134.9 260.24 L135.4 260.17 L135.9 260.27 L136.4 260.19 L136.9 260.27 L137.4 260.23 L137.9 260.46 L138.4 260.59 L138.9 260.70 L139.4 260.40 L139.9 260.10 L140.4 259.94 L140.9 260.10 L141.4 260.28 L141.9 260.24 L142.4 260.20 L142.9 260.08 L143.4 260.20 L143.9 260.21 L144.4 260.47 L144.9 260.49 L145.4 260.61 L145.9 260.50 L146.4 260.56 L146.9 260.42 L147.4 260.29 L147.9 260.05 L148.4 259.97 L148.9 260.01 L149.4 260.09 L149.9 260.08 L150.4 259.97 L150.9 259.84 L151.4 259.76 L151.9 259.71 L152.4 259.81 L152.9 259.95 L153.4 260.23 L153.9 260.43 L154.4 260.53 L154.9 260.44 L155.4 260.18 L155.9 260.03 L156.4 259.88 L156.9 260.02 L157.4 260.05 L157.9 260.17 L158.4 260.01 L158.9 260.00 L159.4 259.97 L159.9 260.07 L160.4 260.17 L160.9 260.22 L161.4 260.27 L161.9 260.05 L162.4 259.69 L162.9 259.33 L163.4 259.19 L163.9 259.18 L164.4 259.36 L164.9 259.40 L165.4 259.56 L165.9 259.66 L166.4 259.93 L166.9 260.12 L167.4 260.19 L167.9 260.18 L168.4 260.19 L168.9 260.09 L169.4 259.99 L169.9 259.83 L170.4 259.85 L170.9 259.85 L171.4 259.89 L171.9 259.90 L172.4 260.03 L172.9 260.15 L173.4 260.13 L173.9 260.02 L174.4 259.97 L174.9 260.02 L175.4 259.88 L175.9 259.62 L176.4 259.49 L176.9 259.75 L177.4 260.02 L177.9 260.17 L178.4 260.01 L178.9 260.05 L179.4 259.96 L179.9 260.10 L180.4 260.08 L180.9 260.18 L181.4 260.15 L181.9 260.07 L182.4 259.97 L182.9 259.82 L183.4 259.73 L183.9 259.73 L184.4 259.88 L184.9 260.10 L185.4 260.11 L185.9 260.01 L186.4 259.88 L186.9 259.97 L187.4 260.05 L187.9 260.09 L188.4 260.07 L188.9 260.05 L189.4 260.06 L189.9 259.82 L190.4 259.64 L190.9 259.43 L191.4 259.51 L191.9 259.65 L192.4 259.79 L192.9 259.89 L193.4 259.86 L193.9 259.86 L194.4 259.66 L194.9 259.58 L195.4 259.55 L195.9 259.72 L196.4 259.77 L196.9 259.61 L197.4 259.42 L197.9 259.27 L198.4 259.41 L198.9 259.53 L199.4 259.79 L199.9 259.83 L200.4 259.75 L200.9 259.53 L201.4 259.40 L201.9 259.59 L202.4 259.85 L202.9 260.22 L203.4 260.28 L203.9 260.29 L204.4 259.98 L204.9 259.71 L205.4 259.53 L205.9 259.64 L206.4 259.84 L206.9 259.95 L207.4 259.88 L207.9 259.76 L208.4 259.60 L208.9 259.61 L209.4 259.68 L209.9 259.76 L210.4 259.73 L210.9 259.58 L211.4 259.69 L211.9 259.84 L212.4 259.98 L212.9 259.90 L213.4 259.84 L213.9 259.79 L214.4 259.71 L214.9 259.46 L215.4 259.22 L215.9 258.95 L216.4 258.87 L216.9 258.88 L217.4 259.14 L217.9 259.33 L218.4 259.65 L218.9 259.71 L219.4 260.01 L219.9 260.12 L220.4 260.35 L220.9 260.15 L221.4 260.02 L221.9 259.70 L222.4 259.60 L222.9 259.50 L223.4 259.68 L223.9 260.05 L224.4 260.41 L224.9 260.43 L225.4 260.07 L225.9 259.69 L226.4 259.60 L226.9 259.79 L227.4 259.93 L227.9 259.86 L228.4 259.70 L228.9 259.61 L229.4 259.76 L229.9 259.85 L230.4 259.98 L230.9 259.95 L231.4 260.17 L231.9 260.40 L232.4 260.49 L232.9 260.20 L233.4 259.73 L233.9 259.42 L234.4 259.23 L234.9 259.24 L235.4 259.33 L235.9 259.72 L236.4 259.94 L236.9 260.11 L237.4 260.02 L237.9 260.01 L238.4 260.00 L238.9 259.95 L239.4 259.93 L239.9 259.63 L240.4 259.60 L240.9 259.49 L241.4 259.63 L241.9 259.38 L242.4 259.19 L242.9 259.17 L243.4 259.52 L243.9 259.78 L244.4 259.58 L244.9 259.38 L245.4 259.32 L245.9 259.57 L246.4 259.49 L246.9 259.42 L247.4 259.51 L247.9 259.75 L248.4 259.83 L248.9 259.66 L249.4 259.47 L249.9 259.44 L250.4 259.43 L250.9 259.57 L251.4 259.58 L251.9 259.56 L252.4 259.39 L252.9 259.35 L253.4 259.33 L253.9 259.27 L254.4 259.12 L254.9 259.09 L255.4 259.33 L255.9 259.62 L256.4 259.95 L256.9 259.93 L257.4 259.83 L257.9 259.55 L258.4 259.49 L258.9 259.45 L259.4 259.58 L259.9 259.51 L260.4 259.56 L260.9 259.42 L261.4 259.43 L261.9 259.39 L262.4 259.47 L262.9 259.55 L263.4 259.43 L263.9 259.26 L264.4 259.03 L264.9 259.04 L265.4 258.94 L265.9 258.94 L266.4 258.76 L266.9 258.71 L267.4 258.69 L267.9 258.92 L268.4 259.07 L268.9 258.98 L269.4 258.51 L269.9 258.11 L270.4 257.93 L270.9 258.02 L271.4 257.95 L271.9 257.75 L272.4 257.54 L272.9 257.53 L273.4 257.73 L273.9 258.08 L274.4 258.46 L274.9 258.81 L275.4 259.10 L275.9 259.36 L276.4 259.53 L276.9 259.68 L277.4 259.92 L277.9 260.20 L278.4 260.55 L278.9 260.90 L279.4 261.23 L279.9 261.56 L280.4 261.89 L280.9 262.23 L281.4 262.57 L281.9 262.91 L282.4 263.24 L282.9 263.56 L283.4 263.86 L283.9 264.14 L284.4 264.41 L284.9 264.65 L285.4 264.86 L285.9 265.05 L286.4 265.24 L286.9 265.42 L287.4 265.59 L287.9 265.76 L288.4 265.93 L288.9 266.08 L289.4 266.23 L289.9 266.37 L290.4 266.50 L290.9 266.61 L291.4 266.72 L291.9 266.82 L292.4 266.90 L292.9 266.97 L293.4 267.02 L293.9 267.07 L294.4 267.12 L294.9 267.17 L295.4 267.22 L295.9 267.26 L296.4 267.30 L296.9 267.34 L297.4 267.38 L297.9 267.41 L298.4 267.43 L298.9 267.46 L299.4 267.48 L299.9 267.49 L300.4 267.50 L300.9 267.50 L301.4 267.49 L301.9 267.48 L302.4 267.46 L302.9 267.42 L303.4 267.38 L303.9 267.33 L304.4 267.28 L304.9 267.22 L305.4 267.15 L305.9 267.08 L306.4 267.00 L306.9 266.92 L307.4 266.84 L307.9 266.76 L308.4 266.67 L308.9 266.58 L309.4 266.49 L309.9 266.41 L310.4 266.32 L310.9 266.23 L311.4 266.15 L311.9 266.05 L312.4 265.94 L312.9 265.82 L313.4 265.69 L313.9 265.55 L314.4 265.42 L314.9 265.28 L315.4 265.14 L315.9 265.01 L316.4 264.88 L316.9 264.76 L317.4 264.65 L317.9 264.55 L318.4 264.46 L318.9 264.39 L319.4 264.32 L319.9 264.25 L320.4 264.19 L320.9 264.12 L321.4 264.06 L321.9 264.00 L322.4 263.95 L322.9 263.89 L323.4 263.85 L323.9 263.80 L324.4 263.77 L324.9 263.74 L325.4 263.72 L325.9 263.70 L326.4 263.70 L326.9 263.72 L327.4 263.79 L327.9 263.89 L328.4 264.02 L328.9 264.18 L329.4 264.37 L329.9 264.56 L330.4 264.78 L330.9 264.99 L331.4 265.21 L331.9 265.43 L332.4 265.63 L332.9 265.82 L333.4 266.00 L333.9 266.15 L334.4 266.28 L334.9 266.41 L335.4 266.54 L335.9 266.68 L336.4 266.82 L336.9 266.95 L337.4 267.07 L337.9 267.19 L338.4 267.29 L338.9 267.37 L339.4 267.44 L339.9 267.48 L340.4 267.50 L340.9 267.48 L341.4 267.39 L341.9 267.25 L342.4 267.05 L342.9 266.82 L343.4 266.56 L343.9 266.27 L344.4 265.97 L344.9 265.67 L345.4 265.37 L345.9 265.08 L346.4 264.82 L346.9 264.59 L347.4 264.39 L347.9 264.24 L348.4 264.14 L348.9 264.06 L349.4 263.98 L349.9 263.91 L350.4 263.85 L350.9 263.79 L351.4 263.74 L351.9 263.69 L352.4 263.64 L352.9 263.59 L353.4 263.55 L353.9 263.50 L354.4 263.45 L354.9 263.40 L355.4 263.34 L355.9 263.28 L356.4 263.21 L356.9 263.13 L357.4 263.05 L357.9 262.95 L358.4 262.85 L358.9 262.73 L359.4 262.61 L359.9 262.48 L360.4 262.34 L360.9 262.20 L361.4 262.05 L361.9 261.90 L362.4 261.75 L362.9 261.59 L363.4 261.43 L363.9 261.28 L364.4 261.12 L364.9 260.97 L365.4 260.82 L365.9 260.68 L366.4 260.54 L366.9 260.40 L367.4 260.27 L367.9 260.14 L368.4 260.00 L368.9 259.86 L369.4 259.72 L369.9 259.57 L370.4 259.42 L370.9 259.28 L371.4 259.14 L371.9 259.02 L372.4 258.90 L372.9 258.79 L373.4 258.69 L373.9 258.61 L374.4 258.55 L374.9 258.51 L375.4 258.48 L375.9 258.45 L376.4 258.43 L376.9 258.40 L377.4 258.38 L377.9 258.36 L378.4 258.34 L378.9 258.33 L379.4 258.32 L379.9 258.31 L380.4 258.30 L380.9 258.30 L381.4 258.32 L381.9 258.42 L382.4 258.57 L382.9 258.78 L383.4 259.04 L383.9 259.34 L384.4 259.68 L384.9 260.05 L385.4 260.44 L385.9 260.84 L386.4 261.25 L386.9 261.66 L387.4 262.06 L387.9 262.46 L388.4 262.89 L388.9 263.37 L389.4 263.89 L389.9 264.44 L390.4 265.02 L390.9 265.61 L391.4 266.23 L391.9 266.86 L392.4 267.49 L392.9 268.13 L393.4 268.75 L393.9 269.37 L394.4 269.97 L394.9 270.55 L395.4 271.11 L395.9 271.67 L396.4 272.23 L396.9 272.81 L397.4 273.40 L397.9 273.98 L398.4 274.56 L398.9 275.13 L399.4 275.69 L399.9 276.24 L400.4 276.76 L400.9 277.26 L401.4 277.73 L401.9 278.17 L402.4 278.57 L402.9 278.93 L403.4 279.26 L403.9 279.57 L404.4 279.87 L404.9 280.15 L405.4 280.41 L405.9 280.66 L406.4 280.89 L406.9 281.10 L407.4 281.30 L407.9 281.47 L408.4 281.63 L408.9 281.79 L409.4 281.95 L409.9 282.11 L410.4 282.25 L410.9 282.38 L411.4 282.50 L411.9 282.59 L412.4 282.66 L412.9 282.69 L413.4 282.68 L413.9 282.47 L414.4 282.06 L414.9 281.48 L415.4 280.77 L415.9 279.97 L416.4 279.11 L416.9 278.24 L417.4 277.38 L417.9 276.58 L418.4 275.86 L418.9 275.13 L419.4 274.34 L419.9 273.52 L420.4 272.69 L420.9 271.87 L421.4 271.09 L421.9 270.37 L422.4 269.73 L422.9 269.20 L423.4 268.80 L423.9 268.50 L424.4 268.24 L424.9 268.02 L425.4 267.82 L425.9 267.63 L426.4 267.44 L426.9 267.24 L427.4 267.01 L427.9 266.73 L428.4 266.47 L428.9 266.28 L429.4 266.20 L429.9 266.53 L430.4 267.30 L430.9 268.18 L431.4 269.32 L431.9 270.68 L432.4 272.00 L432.9 273.21 L433.4 274.40 L433.9 275.59 L434.4 276.76 L434.9 277.93 L435.4 279.09 L435.9 280.24 L436.4 281.40 L436.9 282.55 L437.4 283.71 L437.9 284.88 L438.4 286.05 L438.9 287.24 L439.4 288.43 L439.9 289.64 L440.4 290.85 L440.9 292.07 L441.4 293.29 L441.9 294.51 L442.4 295.73 L442.9 296.94 L443.4 298.15 L443.9 299.34 L444.4 300.53 L444.9 301.70 L445.4 302.86 L445.9 304.04 L446.4 305.23 L446.9 306.42 L447.4 307.62 L447.9 308.81 L448.4 309.98 L448.9 311.12 L449.4 312.24 L449.9 313.32 L450.4 314.34 L450.9 315.32 L451.4 316.23 L451.9 317.08 L452.4 317.93 L452.9 318.75 L453.4 319.55 L453.9 320.33 L454.4 321.08 L454.9 321.80 L455.4 322.50 L455.9 323.15 L456.4 323.78 L456.9 324.36 L457.4 324.90 L457.9 325.40 L458.4 325.88 L458.9 326.38 L459.4 326.88 L459.9 327.37 L460.4 327.84 L460.9 328.29 L461.4 328.71 L461.9 329.08 L462.4 329.40 L462.9 329.66 L463.4 329.86 L463.9 329.97 L464.4 330.00 L464.9 329.98 L465.4 329.93 L465.9 329.85 L466.4 329.74 L466.9 329.61 L467.4 329.45 L467.9 329.28 L468.4 329.02 L468.9 328.45 L469.4 327.58 L469.9 326.45 L470.4 325.10 L470.9 323.55 L471.4 321.85 L471.9 319.44 L472.4 315.58 L472.9 311.19 L473.4 307.19 L473.9 304.47 L474.4 302.33 L474.9 300.45 L475.4 299.16 L475.9 298.81 L476.4 298.97 L476.9 299.32 L477.4 299.82 L477.9 300.39 L478.4 301.00 L478.9 301.80 L479.4 302.91 L479.9 304.23 L480.4 305.64 L480.9 307.03 L481.4 308.30 L481.9 309.34 L482.4 310.06 L482.9 310.72 L483.4 311.35 L483.9 311.92 L484.4 312.40 L484.9 312.76 L485.4 312.96 L485.9 312.98 L486.4 312.75 L486.9 312.29 L487.4 311.67 L487.9 310.92 L488.4 310.08 L488.9 309.20 L489.4 308.33 L489.9 307.50 L490.4 306.67 L490.9 305.75 L491.4 304.77 L491.9 303.75 L492.4 302.69 L492.9 301.61 L493.4 300.54 L493.9 299.48 L494.4 298.46 L494.9 297.49 L495.4 296.57 L495.9 295.67 L496.4 294.79 L496.9 293.93 L497.4 293.07 L497.9 292.23 L498.4 291.39 L498.9 290.54 L499.4 289.70 L499.9 288.84" stroke="#FF0000" stroke-width="2.7" fill="none" stroke-linejoin="round" stroke-linecap="round"/>
<path d="M76.5 40.9 V48.599999999999994" stroke="#9C0A14" stroke-width="0.9" stroke-opacity="0.7" fill="none"/>
<path d="M74.35 48.599999999999994 L78.65 48.599999999999994 L76.5 55.8 Z" fill="#9C0A14"/>
<path d="M75.5 149.8 V158.3" stroke="#9C0A14" stroke-width="0.9" stroke-opacity="0.7" fill="none"/>
<path d="M73.35 158.3 L77.65 158.3 L75.5 165.5 Z" fill="#9C0A14"/>
<path d="M72.4 262.4 V270.90000000000003" stroke="#9C0A14" stroke-width="0.9" stroke-opacity="0.7" fill="none"/>
<path d="M70.25 270.90000000000003 L74.55000000000001 270.90000000000003 L72.4 278.1 Z" fill="#9C0A14"/>
<path d="M318.4 40.0 V48.3" stroke="#FFA200" stroke-width="0.9" stroke-opacity="0.7" fill="none"/>
<path d="M316.25 48.3 L320.54999999999995 48.3 L318.4 55.5 Z" fill="#FFA200"/>
<path d="M321.4 149.0 V157.10000000000002" stroke="#FFA200" stroke-width="0.9" stroke-opacity="0.7" fill="none"/>
<path d="M319.25 157.10000000000002 L323.54999999999995 157.10000000000002 L321.4 164.3 Z" fill="#FFA200"/>
<path d="M497.8 110.0 V100.60000000000001" stroke="#FF0000" stroke-width="0.9" stroke-opacity="0.7" fill="none"/>
<path d="M495.65000000000003 100.60000000000001 L499.95 100.60000000000001 L497.8 93.4 Z" fill="#FF0000"/>
<path d="M518.5 96.6 V86.0" stroke="#FF00FF" stroke-width="0.9" stroke-opacity="0.7" fill="none"/>
<path d="M516.35 86.0 L520.65 86.0 L518.5 78.8 Z" fill="#FF00FF"/>
<path d="M496.2 218.0 V207.5" stroke="#FF0000" stroke-width="0.9" stroke-opacity="0.7" fill="none"/>
<path d="M494.05 207.5 L498.34999999999997 207.5 L496.2 200.3 Z" fill="#FF0000"/>
<path d="M518.5 205.5 V194.79999999999998" stroke="#FF00FF" stroke-width="0.9" stroke-opacity="0.7" fill="none"/>
<path d="M516.35 194.79999999999998 L520.65 194.79999999999998 L518.5 187.6 Z" fill="#FF00FF"/>
<path d="M295.3 268.8 V275.2" stroke="#FF1493" stroke-width="0.9" stroke-opacity="0.7" fill="none"/>
<path d="M293.15000000000003 275.2 L297.45 275.2 L295.3 282.4 Z" fill="#FF1493"/>
<path d="M361.5 263.7 V269.6" stroke="#1010E8" stroke-width="0.9" stroke-opacity="0.7" fill="none"/>
<path d="M359.35 269.6 L363.65 269.6 L361.5 276.8 Z" fill="#1010E8"/>
<path d="M404.8 281.0 V288.2" stroke="#FF8C00" stroke-width="0.9" stroke-opacity="0.7" fill="none"/>
<path d="M402.65000000000003 288.2 L406.95 288.2 L404.8 295.4 Z" fill="#FF8C00"/>
<path d="M464.8 328.9 V318.0" stroke="#10E010" stroke-width="0.9" stroke-opacity="0.7" fill="none"/>
<path d="M462.65000000000003 318.0 L466.95 318.0 L464.8 310.8 Z" fill="#10E010"/>
<path d="M485.8 310.0 V299.59999999999997" stroke="#0B7A33" stroke-width="0.9" stroke-opacity="0.7" fill="none"/>
<path d="M483.65000000000003 299.59999999999997 L487.95 299.59999999999997 L485.8 292.4 Z" fill="#0B7A33"/>
<text class="ser" transform="translate(81.60 87.50) rotate(-90) scale(1 1.04)" font-size="13" fill="#9C0A14" stroke="#9C0A14" stroke-width="0.3">3710</text>
<text class="ser" transform="translate(82.10 193.55) rotate(-90) scale(1 1.04)" font-size="13" fill="#9C0A14" stroke="#9C0A14" stroke-width="0.3">3712</text>
<text class="ser" transform="translate(77.10 307.10) rotate(-90) scale(1 1.04)" font-size="13" fill="#9C0A14" stroke="#9C0A14" stroke-width="0.3">3740</text>
<text class="ser" transform="translate(323.50 87.25) rotate(-90) scale(1 1.04)" font-size="13" fill="#FFA200" stroke="#FFA200" stroke-width="0.3">1964</text>
<text class="ser" transform="translate(326.15 192.65) rotate(-90) scale(1 1.04)" font-size="13" fill="#FFA200" stroke="#FFA200" stroke-width="0.3">1976</text>
<text class="ser" transform="translate(501.70 89.30) rotate(-90) scale(1 1.04)" font-size="13" fill="#FF0000" stroke="#FF0000" stroke-width="0.3">660</text>
<text class="ser" transform="translate(524.05 76.30) rotate(-90) scale(1 1.04)" font-size="13" fill="#FF00FF" stroke="#FF00FF" stroke-width="0.3">518</text>
<text class="ser" transform="translate(501.40 195.70) rotate(-90) scale(1 1.04)" font-size="13" fill="#FF0000" stroke="#FF0000" stroke-width="0.3">670</text>
<text class="ser" transform="translate(524.90 182.55) rotate(-90) scale(1 1.04)" font-size="13" fill="#FF00FF" stroke="#FF00FF" stroke-width="0.3">522</text>
<text class="ser" transform="translate(301.55 312.40) rotate(-90) scale(1 1.04)" font-size="13" fill="#FF1493" stroke="#FF1493" stroke-width="0.3">2135</text>
<text class="ser" transform="translate(367.25 309.75) rotate(-90) scale(1 1.04)" font-size="13" fill="#1010E8" stroke="#1010E8" stroke-width="0.3">1646</text>
<text class="ser" transform="translate(411.60 323.20) rotate(-90) scale(1 1.04)" font-size="13" fill="#FF8C00" stroke="#FF8C00" stroke-width="0.3">1361</text>
<text class="ser" transform="translate(467.75 305.85) rotate(-90) scale(1 1.04)" font-size="13" fill="#10E010" stroke="#10E010" stroke-width="0.3">900</text>
<text class="ser" transform="translate(492.90 287.95) rotate(-90) scale(1 1.04)" font-size="13" fill="#0B7A33" stroke="#0B7A33" stroke-width="0.3">748</text>
<rect x="152.3" y="12.3" width="114.9" height="24.0" fill="#fff" stroke="#555" stroke-width="0.6"/>
<path d="M155.3 23.0 H191.1" stroke="#12782F" stroke-width="2.5" fill="none"/>
<text class="san" x="195.6" y="28.7" font-size="14.6" fill="#000">TiO</text>
<text class="san" x="222.6" y="32.6" font-size="10.6" fill="#000">2</text>
<text class="san" x="229.0" y="28.7" font-size="14.6" fill="#000">:CdS</text>
<rect x="153.3" y="112.3" width="85.1" height="25.3" fill="#fff" stroke="#555" stroke-width="0.6"/>
<path d="M156.6 123.8 H195.7" stroke="#0000FF" stroke-width="2.5" fill="none"/>
<text class="san" x="199.6" y="130.1" font-size="16" fill="#000">TiO</text>
<text class="san" x="229.3" y="134.4" font-size="11.2" fill="#000">2</text>
<rect x="152.3" y="232.5" width="84.3" height="21.5" fill="#fff" stroke="#555" stroke-width="0.6"/>
<path d="M155.3 243.2 H194.2" stroke="#FF0000" stroke-width="2.5" fill="none"/>
<text class="san" x="198.8" y="250.7" font-size="16" fill="#000">CdS</text>
</svg></body></html>
